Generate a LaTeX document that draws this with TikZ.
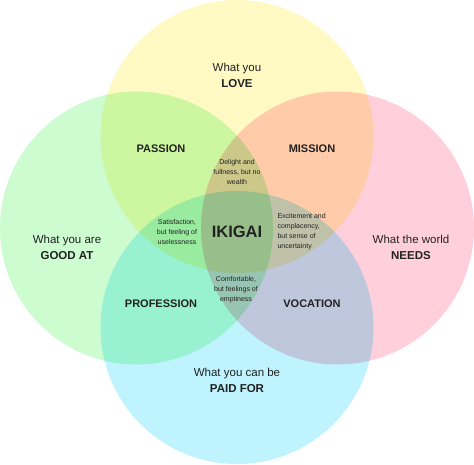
\documentclass[tikz,border=0pt]{standalone}
\usepackage{fontspec}
\setmainfont{Liberation Sans}
\usetikzlibrary{positioning}
\definecolor{loveyellow}{HTML}{FFF9C4}
\definecolor{goodgreen}{HTML}{CCFCD0}
\definecolor{needspink}{HTML}{FFD0DC}
\definecolor{paidcyan}{HTML}{BFF4FF}
\definecolor{inkgrey}{HTML}{222222}
\tikzset{ring/.style = {circle, inner sep = 0, minimum size = 273pt}}
\tikzset{every picture/.style={
    every node/.style={text=inkgrey},
}}
\tikzset{big/.style = {align=center, font=\fontsize{11.5}{16}\selectfont}}
\tikzset{zone/.style = {font=\bfseries\fontsize{11}{13}\selectfont}}
\tikzset{note/.style = {align=center, font=\fontsize{7}{10}\selectfont}}

\begin{document}
\begin{tikzpicture}[x=1pt, y=-1pt]
      \useasboundingbox (0,0) rectangle (474,464);
      % the four circles
      \begin{scope}[blend group=multiply]
        \node[ring, fill=loveyellow] (love) at (237,136.5) {};
        \node[ring, fill=goodgreen] (good) at (136.5,228) {};
        \node[ring, fill=needspink] (needs) at (337.5,228) {};
        \node[ring, fill=paidcyan] (paid) at (237,327.5) {};
      \end{scope}
      \node[big] (lovetxt) at (237,75) {What you\\\textbf{LOVE}};
      \node[big] (goodtxt) at (67,247) {What you are\\\textbf{GOOD AT}};
      \node[big] (needstxt) at (411,247) {What the world\\\textbf{NEEDS}};
      \node[big] (paidtxt) at (237,380) {What you can be\\\textbf{PAID FOR}};
      \node[zone] (passion) at (161,149) {PASSION};
      \node[zone] (mission) at (312,149) {MISSION};
      \node[zone] (profession) at (161,304) {PROFESSION};
      \node[zone] (vocation) at (312,304) {VOCATION};
      \node[font=\bfseries\fontsize{16.5}{18}\selectfont] (ikigai) at (237,232) {IKIGAI};
      \node[note] (delight) at (237,172) {Delight and\\fullness, but no\\wealth};
      \node[note] (satisf) at (177,232) {Satisfaction,\\but feeling of\\uselessness};
      \node[note, align=left, anchor=west] (excite) at (274,232) {Excitement and\\complacency,\\but sense of\\uncertainty};
      \node[note] (comfort) at (236,290) {Comfortable,\\but feelings of\\emptiness};
\end{tikzpicture}
\end{document}
